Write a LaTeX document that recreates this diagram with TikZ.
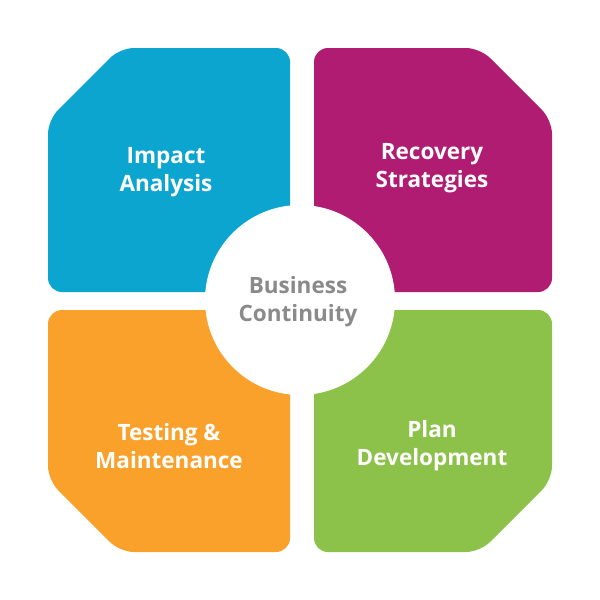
\documentclass[tikz,border=0pt]{standalone}
\usepackage{fontspec}
\setmainfont{Open Sans}
\definecolor{cblue}{HTML}{0BA5D0}
\definecolor{cmag}{HTML}{B01C72}
\definecolor{corange}{HTML}{F9A12A}
\definecolor{cgreen}{HTML}{8CC24A}
\definecolor{cgray}{HTML}{8A8A8A}
\begin{document}
\begin{tikzpicture}[x=1pt,y=-1pt,
  quad/.style={rounded corners=14pt},
  lab/.style={text=white,font=\fontsize{22.5}{28}\selectfont\bfseries,align=center}]
\useasboundingbox[fill=white] (0,0) rectangle (600,600);
\fill[cblue,quad] (48,120) -- (120,48) -- (290,48) -- (290,292) -- (48,292) -- cycle;
\fill[cmag,quad] (314,48) -- (480,48) -- (552,120) -- (552,292) -- (314,292) -- cycle;
\fill[corange,quad] (48,310) -- (290,310) -- (290,552) -- (120,552) -- (48,480) -- cycle;
\fill[cgreen,quad] (314,310) -- (552,310) -- (552,480) -- (480,552) -- (314,552) -- cycle;
\fill[white] (300,300) circle (95);
\node[lab] (ia) at (166,172) {Impact\\Analysis};
\node[lab] (rs) at (432,168) {Recovery\\Strategies};
\node[lab] (tm) at (169,446) {Testing \&\\Maintenance};
\node[lab] (pd) at (432,446) {Plan\\Development};
\node[lab,text=cgray] (bc) at (298,302) {Business\\Continuity};
\end{tikzpicture}
\end{document}
